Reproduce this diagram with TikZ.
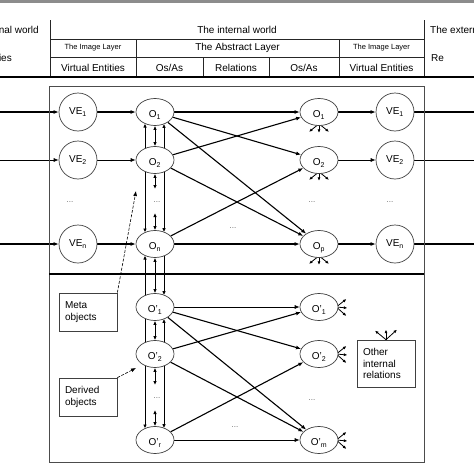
\documentclass[tikz,border=0pt]{standalone}
\usepackage{fontspec}
\setmainfont{Liberation Sans}
\usetikzlibrary{arrows.meta,shapes.geometric,backgrounds}
\begin{document}
\begin{tikzpicture}[x=1pt,y=-1pt,
  lbl/.style={font=\fontsize{10}{12}\selectfont, inner sep=0pt},
  tinylbl/.style={font=\fontsize{7.5}{9}\selectfont, inner sep=0pt},
  dotlbl/.style={font=\fontsize{8}{9}\selectfont, inner sep=0pt, text=black!60},
  vecirc/.style={draw=black!75, circle, minimum size=38pt, inner sep=0pt, fill=white, line width=0.7pt, font=\fontsize{10}{12}\selectfont},
  obj/.style={draw=black!75, ellipse, minimum width=38pt, minimum height=27pt, inner sep=0pt, fill=white, line width=0.7pt, font=\fontsize{10}{12}\selectfont, text height=11pt, text depth=0pt},
  tbox/.style={draw=black!75, rectangle, line width=0.7pt, minimum width=58pt, inner sep=0pt, align=left, text width=46pt, fill=white, font=\fontsize{10}{11.5}\selectfont},
  tip/.style={-{Latex[length=5pt,width=4pt]}},
  dtip/.style={{Latex[length=4pt,width=3.5pt]}-{Latex[length=4pt,width=3.5pt]}},
  vtip/.style={-{Latex[length=4pt,width=3.5pt]}},
  stip/.style={-{Latex[length=3.5pt,width=3pt]}, line width=0.8pt},
  thk/.style={line width=1.1pt},
  thn/.style={line width=0.7pt},
  vln/.style={line width=0.9pt},
  gridl/.style={line width=0.7pt, black!85},
  dsh/.style={line width=0.6pt, dash pattern=on 3pt off 1.5pt, -{Latex[length=5pt,width=4pt]}},
]
\useasboundingbox (0,0) rectangle (474,474);
\clip (0,0) rectangle (474,474);
\fill[black!45] (0,0) rectangle (474,2.5);

% header table
\draw[gridl] (50,20) -- (50,77);
\draw[gridl] (424,20) -- (424,77);
\draw[gridl] (50,39) -- (424,39);
\draw[gridl] (50,57.5) -- (424,57.5);
\draw[gridl] (136,39) -- (136,77);
\draw[gridl] (339,39) -- (339,77);
\draw[gridl] (203,57.5) -- (203,77);
\draw[gridl] (269,57.5) -- (269,77);
\draw[line width=1.3pt] (0,77) -- (474,77);

\node[lbl, anchor=east] (hextL) at (39,30) {The external world};
\node[lbl] (hint) at (237,30) {The internal world};
\node[lbl, anchor=west] (hextR) at (430,30) {The external world};
\node[lbl, anchor=east] (hreL) at (12,58) {Real Entities};
\node[lbl, anchor=west] (hreR) at (431,58) {Re};
\node[tinylbl] (hil) at (93,48) {The Image Layer};
\node[lbl] (hal) at (237.5,48) {The Abstract Layer};
\node[tinylbl] (hir) at (381.5,48) {The Image Layer};
\node[lbl] (hv1) at (93,67.5) {Virtual Entities};
\node[lbl] (ho1) at (169.5,67.5) {Os/As};
\node[lbl] (hrel) at (236,67.5) {Relations};
\node[lbl] (ho2) at (304,67.5) {Os/As};
\node[lbl] (hv2) at (381.5,67.5) {Virtual Entities};

% main box
\draw[line width=0.8pt, black!70] (49,86) rectangle (424,462);
\draw[line width=1.1pt] (49,274) -- (424,274);

% upper nodes
\node[vecirc] (VL1) at (78,112) {VE\textsubscript{1}};
\node[vecirc] (VL2) at (78,160) {VE\textsubscript{2}};
\node[vecirc] (VLn) at (78,244) {VE\textsubscript{n}};
\node[obj] (OL1) at (155,112) {O\textsubscript{1}};
\node[obj] (OL2) at (155,160) {O\textsubscript{2}};
\node[obj] (OLn) at (155,244) {O\textsubscript{n}};
\node[obj] (OR1) at (319,112) {O\textsubscript{1}};
\node[obj] (OR2) at (319,160) {O\textsubscript{2}};
\node[obj] (ORn) at (319,244) {O\textsubscript{p}};
\node[vecirc] (VR1) at (395,112) {VE\textsubscript{1}};
\node[vecirc] (VR2) at (395,160) {VE\textsubscript{2}};
\node[vecirc] (VRn) at (395,244) {VE\textsubscript{n}};

\node[dotlbl] (d1) at (70,202) {...};
\node[dotlbl] (d2) at (157,202) {...};
\node[dotlbl] (d3) at (312,202) {...};
\node[dotlbl] (d4) at (390,202) {...};
\node[dotlbl] (d5) at (233,228) {...};

% lower nodes
\node[obj] (PL1) at (155,307) {O'\textsubscript{1}};
\node[obj] (PL2) at (155,354) {O'\textsubscript{2}};
\node[obj] (PLr) at (155,440) {O'\textsubscript{r}};
\node[obj] (PR1) at (319,307) {O'\textsubscript{1}};
\node[obj] (PR2) at (319,354) {O'\textsubscript{2}};
\node[obj] (PRr) at (319,440) {O'\textsubscript{m}};
\node[dotlbl] (d6) at (157,398) {...};
\node[dotlbl] (d7) at (312,400) {...};
\node[dotlbl] (d8) at (235,427) {...};

% text boxes
\node[tbox, minimum height=38pt] (meta) at (88,312) {Meta\\objects};
\node[tbox, minimum height=38pt] (derived) at (88,397) {Derived\\objects};
\node[tbox, minimum height=47pt] (other) at (386,363.5) {Other\\internal\\relations};

% coordinates
\coordinate (in1) at (0,112);
\coordinate (in2) at (0,160);
\coordinate (inn) at (0,244);
\coordinate (out1) at (474,112);
\coordinate (out2) at (474,160);
\coordinate (outn) at (474,244);
\coordinate (mtip) at (136,191);
\coordinate (dtipc) at (136,368);
\coordinate (m2a) at (155,189);
\coordinate (m2b) at (155,213);
\coordinate (m3a) at (155,385);
\coordinate (m3b) at (155,410);

\begin{scope}[on background layer]
\fill[white] (0,0) rectangle (474,474);
% external lines
\draw[tip, thk] (in1) -- (VL1);
\draw[tip, thn] (in2) -- (VL2);
\draw[tip, thk] (inn) -- (VLn);
\draw[thk] (VR1) -- (out1);
\draw[thn] (VR2) -- (out2);
\draw[thk] (VRn) -- (outn);
% VE -> O
\draw[tip, thk] (VL1) -- (OL1);
\draw[tip, thn] (VL2) -- (OL2);
\draw[tip, thk] (VLn) -- (OLn);
\draw[tip, thk] (OR1) -- (VR1);
\draw[tip, thn] (OR2) -- (VR2);
\draw[tip, thk] (ORn) -- (VRn);
% upper relations
\draw[tip, thk] (OL1) -- (OR1);
\draw[tip, thk] (OL1) -- (OR2);
\draw[tip, thk] (OL1) -- (ORn);
\draw[tip, thk] (OL2) -- (OR1);
\draw[tip, thk] (OL2) -- (ORn);
\draw[tip, thk] (OLn) -- (OR2);
\draw[tip, thk] (OLn) -- (ORn);
% lower relations
\draw[tip, thn] (PL1) -- (PR1);
\draw[tip, thk] (PL1) -- (PR2);
\draw[tip, thk] (PL1) -- (PRr);
\draw[tip, thk] (PL2) -- (PR1);
\draw[tip, thk] (PL2) -- (PRr);
\draw[tip, thk] (PLr) -- (PR2);
\draw[tip, thn] (PLr) -- (PRr);
% vertical links, upper
\draw[dtip, vln] ([shift={(-10pt,-11.5pt)}]OL1.center) -- ([shift={(-10pt,11.5pt)}]OLn.center);
\draw[dtip, vln] ([shift={(9pt,-11.8pt)}]OL1.center) -- ([shift={(9pt,11.8pt)}]OLn.center);
\draw[dtip, vln] (OL1.south) -- (OL2.north);
\draw[dtip, vln] (OL2.south) -- (m2a);
\draw[dtip, vln] (m2b) -- (OLn.north);
% vertical links, across the divider
\draw[dtip, vln] ([shift={(-10pt,-11.5pt)}]OLn.center) -- ([shift={(-10pt,11.5pt)}]PLr.center);
\draw[dtip, vln] (OLn.south) -- (PL1.north);
\draw[vtip, vln] ([shift={(9pt,-11.8pt)}]OLn.center) -- ([shift={(9pt,11.8pt)}]PL1.center);
% vertical links, lower
\draw[dtip, vln] ([shift={(9pt,-11.8pt)}]PL1.center) -- ([shift={(9pt,11.8pt)}]PLr.center);
\draw[dtip, vln] (PL1.south) -- (PL2.north);
\draw[dtip, vln] (PL2.south) -- (m3a);
\draw[dtip, vln] (m3b) -- (PLr.north);
% little relation arrows
\foreach \n in {OR1,OR2,ORn}{
  \draw[stip] ([yshift=2pt]\n.south) -- ++(-10,8);
  \draw[stip] ([yshift=2pt]\n.south) -- ++(0,9);
  \draw[stip] ([yshift=2pt]\n.south) -- ++(10,8);
}
\foreach \n in {PR1,PR2,PRr}{
  \draw[stip] ([xshift=-2pt]\n.east) -- ++(10,-8);
  \draw[stip] ([xshift=-2pt]\n.east) -- ++(11,1);
  \draw[stip] ([xshift=-2pt]\n.east) -- ++(10,9);
}
\draw[stip] (other.north) -- ++(-11,-9);
\draw[stip] (other.north) -- ++(0,-10);
\draw[stip] (other.north) -- ++(11,-10);
% annotation arrows
\draw[dsh] (meta.north east) -- (mtip);
\draw[dsh] (derived.north east) -- (dtipc);
\end{scope}
\end{tikzpicture}
\end{document}
